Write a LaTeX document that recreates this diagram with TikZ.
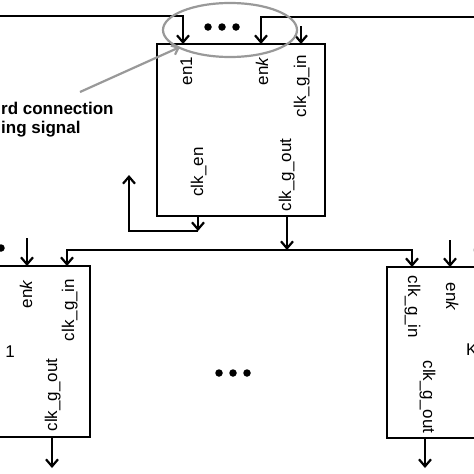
\documentclass[tikz,border=0pt]{standalone}
\usepackage{fontspec}
\setmainfont{Liberation Sans}
\usetikzlibrary{arrows.meta,shapes.geometric}
\begin{document}
\begin{tikzpicture}[x=1pt,y=-1pt,
  wire/.style={line width=2.2pt},
  sig/.style={wire,-{Straight Barb[length=7pt,width=12pt]}},
  blk/.style={draw,line width=2.2pt,rectangle,inner sep=0pt},
  lblfont/.style={font=\fontsize{17pt}{17pt}\selectfont,inner sep=0pt},
  upl/.style={lblfont,rotate=90,anchor=base},
  dnl/.style={lblfont,rotate=-90,anchor=base},
  dotc/.style={fill,circle,inner sep=0pt,minimum size=7.5pt},
  callout/.style={draw=gray!80,line width=2.2pt},
  note/.style={font=\bfseries\fontsize{17pt}{17pt}\selectfont,inner sep=0pt,anchor=base west}
]
\useasboundingbox (0,0) rectangle (474,474);
\clip (0,0) rectangle (474,474);
\fill[white] (0,0) rectangle (474,474);

% blocks
\node[blk,minimum width=168pt,minimum height=172pt] (top) at (241,130) {};
\node[blk,minimum width=130pt,minimum height=171pt] (lft) at (25,351.5) {};
\node[blk,minimum width=133pt,minimum height=171pt] (rgt) at (453.5,352.5) {};

% ports
\coordinate (t-en1) at (183,44);
\coordinate (t-enk) at (261,44);
\coordinate (t-cin) at (301,44);
\coordinate (t-cinsrc) at (301,26);
\coordinate (t-cen) at (198,216);
\coordinate (t-cout) at (287,216);
\coordinate (cen-j) at (198,231);
\coordinate (cen-end) at (129,175);
\coordinate (bus) at (287,250);
\coordinate (tlL) at (-5,16);
\coordinate (tlR) at (480,17);
\coordinate (l-enk) at (27,266);
\coordinate (l-enksrc) at (27,238);
\coordinate (l-cin) at (67,266);
\coordinate (l-cout) at (52,437);
\coordinate (l-out) at (52,468);
\coordinate (r-cin) at (412,267);
\coordinate (r-enk) at (450,267);
\coordinate (r-enksrc) at (450,240);
\coordinate (r-cout) at (425,438);
\coordinate (r-out) at (425,468);

% wires
\draw[sig] (tlL) -| (t-en1);
\draw[sig] (tlR) -| (t-enk);
\draw[sig] (t-cinsrc) -- (t-cin);
\draw[sig] (t-cen) -- (cen-j);
\draw[sig] (cen-j) -| (cen-end);
\draw[sig] (t-cout) -- (bus);
\draw[sig] (bus) -| (l-cin);
\draw[sig] (bus) -| (r-cin);
\draw[sig] (l-enksrc) -- (l-enk);
\draw[sig] (r-enksrc) -- (r-enk);
\draw[sig] (l-cout) -- (l-out);
\draw[sig] (r-cout) -- (r-out);

% group ellipse and callout
\node[ellipse,draw=gray!80,line width=2.2pt,minimum width=134pt,minimum height=54pt,inner sep=0pt] (grp) at (230,30) {};
\coordinate (cA) at (80,92);
\coordinate (cB) at (180,47);
\draw[callout,-{Straight Barb[length=6pt,width=10pt]}] (cA) -- (cB);
\node[note] (n1) at (1,114) {rd connection};
\node[note] (n2) at (1,133) {ing signal};

% dots
\node[dotc] (d1) at (208,27) {};
\node[dotc] (d2) at (222,27) {};
\node[dotc] (d3) at (236,27) {};
\node[dotc] (d4) at (219,373) {};
\node[dotc] (d5) at (233,373) {};
\node[dotc] (d6) at (247,373) {};
\node[dotc] (d7) at (1,248) {};
\node[dotc,fill=gray!60] (d8) at (477,250) {};

% labels top block
\node[upl] (a1) at (192,71) {en1};
\node[upl] (a2) at (268,71) {en\textit{k}};
\node[upl] (a3) at (306,86) {clk\_g\_in};
\node[upl] (a4) at (203,172) {clk\_en};
\node[upl] (a5) at (291,175) {clk\_g\_out};

% labels left block
\node[upl] (b1) at (32,294) {en\textit{k}};
\node[upl] (b2) at (74,310) {clk\_g\_in};
\node[upl] (b3) at (57,395) {clk\_g\_out};
\node[lblfont,anchor=base] (b4) at (10,357) {1};

% labels right block
\node[dnl] (c1) at (408,307) {clk\_g\_in};
\node[dnl] (c2) at (446,297) {en\textit{k}};
\node[dnl] (c3) at (423,397) {clk\_g\_out};
\node[lblfont,anchor=base west] (c4) at (466,355) {K};
\end{tikzpicture}
\end{document}
